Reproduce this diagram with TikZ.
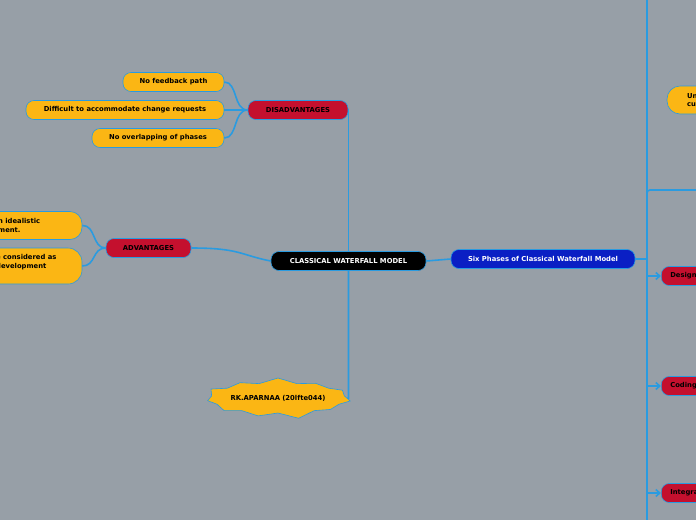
\documentclass[tikz,border=0pt]{standalone}
\usepackage{fontspec}
\setmainfont{DejaVu Sans}
\usetikzlibrary{shapes.symbols,arrows.meta}
\definecolor{bg}{HTML}{979FA7}
\definecolor{ln}{HTML}{2A9BE0}
\definecolor{yel}{HTML}{FBB614}
\definecolor{rd}{HTML}{C4102E}
\definecolor{bl}{HTML}{0A1FC4}
\tikzset{
 base/.style={rounded corners=8pt,draw=ln,line width=0.6pt,font=\bfseries\fontsize{6.8}{8}\selectfont,inner sep=0pt,anchor=center},
 ynode/.style={base,fill=yel,text=black},
 rnode/.style={base,fill=rd,text=black},
 con/.style={ln,line width=1.6pt},
 edgetext/.style={font=\bfseries\fontsize{6.8}{8.5}\selectfont,align=left,anchor=west,inner sep=0pt},
}
\begin{document}
\begin{tikzpicture}[x=1pt,y=-1pt]
\fill[bg] (0,0) rectangle (696,520);
\clip (0,0) rectangle (696,520);
% nodes
\node[ynode,minimum width=101pt,minimum height=19pt] (fb) at (173.5,82) {No feedback path};
\node[ynode,minimum width=198pt,minimum height=19pt] (dc) at (125,110) {Difficult to accommodate change requests};
\node[ynode,minimum width=132pt,minimum height=19pt] (ov) at (158,138) {No overlapping of phases};
\node[rnode,minimum width=100pt,minimum height=19pt] (dis) at (298,110) {DISADVANTAGES};
\node[rnode,minimum width=85pt,minimum height=19pt] (adv) at (148.5,248) {ADVANTAGES};
\node[ynode,rounded corners=12pt,minimum width=120pt,minimum height=28pt] (a1) at (22,225.5) {};
\node[edgetext] at (-2,225.5) {n idealistic\\ment.};
\node[ynode,rounded corners=14pt,minimum width=120pt,minimum height=36pt] (a2) at (22,266) {};
\node[edgetext] at (-4,262) {e considered as\\ development};
\node[base,fill=black,text=white,minimum width=155pt,minimum height=19pt] (cw) at (348.5,261) {CLASSICAL WATERFALL MODEL};
\node[base,fill=bl,text=white,minimum width=184pt,minimum height=19pt] (six) at (543,259) {Six Phases of Classical Waterfall Model};
\node[starburst,starburst points=11,starburst point height=7pt,fill=yel,draw=ln,line width=0.6pt,minimum width=138pt,minimum height=44pt,font=\bfseries\fontsize{6.8}{8}\selectfont,inner sep=0pt] (rk) at (278,398) {RK.APARNAA (20lfte044)};
\node[ynode,rounded corners=13pt,minimum width=80pt,minimum height=28pt] (un) at (707,100) {};
\node[edgetext] at (687,100) {Understanding\\customer};
\node[rnode,minimum width=80pt,minimum height=19pt,anchor=west,text width=70pt,align=left] (de) at (661,276) {\hspace*{4pt}Design};
\node[rnode,minimum width=80pt,minimum height=19pt,anchor=west,text width=70pt,align=left] (co) at (661,386) {\hspace*{4pt}Coding};
\node[rnode,minimum width=80pt,minimum height=19pt,anchor=west,text width=70pt,align=left] (in) at (661,493) {\hspace*{4pt}Integration};
% connectors
\draw[con] (dis.west) .. controls (233,110) and (238,82) .. (fb.east);
\draw[con] (dis.west) -- (dc.east);
\draw[con] (dis.west) .. controls (233,110) and (238,138) .. (ov.east);
\draw[con] (adv.west) .. controls (92,248) and (96,225) .. (a1.east);
\draw[con] (adv.west) .. controls (92,248) and (96,266) .. (a2.east);
\draw[con] (dis.east) -- (348.5,110) -- (cw.north);
\draw[con] (cw.south) -- (348.5,398) -- (rk.east);
\draw[con] (adv.east) .. controls (240,248) and (240,255) .. (cw.west);
\draw[con] (six.west) -- (cw.east);
\coordinate (vt) at (647,0); \coordinate (vb) at (647,520);
\draw[con] (vt) -- (vb);
\draw[con,rounded corners=3pt] (647,200) -- (647,190) -- (696,190);
\draw[con] (six.east) -- (647,259);
\foreach \n in {de,co,in}{\draw[con,-{Straight Barb[length=4pt,width=7pt]}] (vt |- \n.west) -- (\n.west);}
\end{tikzpicture}
\end{document}
